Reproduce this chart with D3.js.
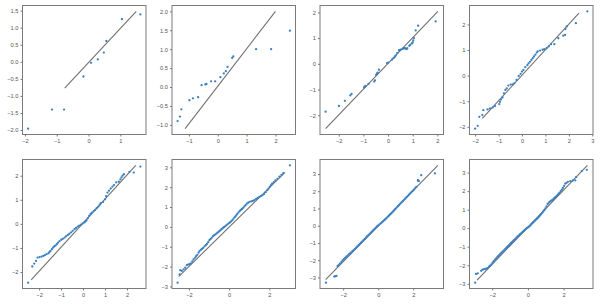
<!DOCTYPE html>
<html>
<head>
<meta charset="utf-8">
<script src="https://cdn.jsdelivr.net/npm/d3@7"></script>
<style>
  body { margin: 0; background: #fff; }
  svg { display: block; font-family: "DejaVu Sans", sans-serif; }
  .tick text { fill: #555; font-size: 5.7px; }
  .tick line { stroke: #777; }
</style>
</head>
<body>
<svg width="600" height="306"></svg>
<script>
// sample vs theoretical quantile pairs
const qq10 = [[-1.90,-1.96],[-1.15,-1.40],[-0.77,-1.40],[-0.16,-0.43],[0.08,-0.03],[0.29,0.07],[0.48,0.27],[0.56,0.61],[1.05,1.25],[1.63,1.39]];
const line10 = [[-0.75,-0.77],[1.50,1.48]];

const qq20 = [[-1.39,-0.90],[-1.31,-0.78],[-1.26,-0.59],[-0.98,-0.35],[-0.86,-0.30],[-0.68,-0.27],[-0.56,0.05],[-0.43,0.07],[-0.39,0.08],[-0.23,0.15],[-0.09,0.15],[0.09,0.26],[0.21,0.36],[0.28,0.42],[0.34,0.53],[0.50,0.77],[0.54,0.81],[1.33,1.00],[1.85,1.00],[2.50,1.49]];
const line20 = [[-1.13,-1.10],[2.00,2.00]];

const qq40 = [[-2.53,-1.86],[-1.99,-1.64],[-1.75,-1.44],[-1.53,-1.23],[-1.48,-1.17],[-0.97,-0.92],[-0.95,-0.90],[-0.92,-0.86],[-0.79,-0.78],[-0.56,-0.69],[-0.53,-0.64],[-0.48,-0.43],[-0.45,-0.38],[-0.42,-0.34],[-0.37,-0.23],[-0.04,0.03],[0.01,0.05],[0.16,0.16],[0.23,0.22],[0.28,0.28],[0.31,0.32],[0.37,0.42],[0.44,0.52],[0.46,0.53],[0.51,0.55],[0.59,0.58],[0.63,0.60],[0.67,0.61],[0.70,0.60],[0.75,0.57],[0.78,0.61],[0.86,0.70],[0.90,0.74],[0.96,0.79],[1.00,0.83],[1.02,0.91],[1.05,1.00],[1.12,1.30],[1.22,1.48],[1.93,1.65]];
const line40 = [[-2.53,-2.52],[2.02,2.04]];

const qq80 = [[-2.00,-2.07],[-1.89,-1.96],[-1.82,-1.61],[-1.69,-1.54],[-1.65,-1.35],[-1.47,-1.32],[-1.37,-1.28],[-1.25,-1.24],[-1.15,-1.19],[-0.97,-1.11],[-0.94,-1.02],[-0.90,-0.93],[-0.83,-0.85],[-0.77,-0.69],[-0.71,-0.56],[-0.65,-0.50],[-0.58,-0.39],[-0.48,-0.35],[-0.40,-0.34],[-0.33,-0.30],[-0.23,-0.17],[-0.14,-0.01],[-0.06,0.07],[0.00,0.16],[0.06,0.22],[0.14,0.33],[0.23,0.41],[0.28,0.48],[0.34,0.54],[0.40,0.61],[0.46,0.68],[0.51,0.75],[0.57,0.82],[0.63,0.90],[0.67,0.95],[0.77,0.98],[0.88,1.01],[0.95,1.03],[1.05,1.07],[1.14,1.14],[1.24,1.23],[1.38,1.23],[1.55,1.46],[1.76,1.56],[1.84,1.59],[1.85,1.82],[1.91,1.92],[2.30,2.05],[2.79,2.51]];
const line80 = [[-1.69,-1.67],[2.43,2.44]];

const qq160 = [[-2.50,-2.44],[-2.31,-1.77],[-2.22,-1.65],[-2.14,-1.54],[-2.07,-1.40],[-1.98,-1.38],[-1.89,-1.36],[-1.81,-1.33],[-1.74,-1.30],[-1.66,-1.26],[-1.57,-1.22],[-1.52,-1.16],[-1.48,-1.12],[-1.42,-1.05],[-1.36,-0.98],[-1.30,-0.93],[-1.24,-0.89],[-1.19,-0.84],[-1.14,-0.78],[-1.07,-0.72],[-0.99,-0.66],[-0.92,-0.62],[-0.84,-0.57],[-0.77,-0.51],[-0.69,-0.46],[-0.62,-0.41],[-0.54,-0.35],[-0.47,-0.29],[-0.39,-0.22],[-0.32,-0.17],[-0.24,-0.11],[-0.17,-0.07],[-0.09,-0.03],[-0.02,0.02],[0.06,0.06],[0.11,0.10],[0.16,0.15],[0.22,0.24],[0.28,0.33],[0.34,0.40],[0.40,0.47],[0.48,0.53],[0.55,0.58],[0.62,0.65],[0.70,0.72],[0.76,0.80],[0.81,0.86],[0.91,0.91],[1.00,1.02],[1.05,1.15],[1.11,1.30],[1.18,1.38],[1.26,1.47],[1.34,1.55],[1.41,1.61],[1.51,1.72],[1.63,1.75],[1.70,1.85],[1.75,1.93],[1.80,2.00],[1.86,2.06],[2.11,2.16],[2.31,2.13],[2.61,2.38]];
const line160 = [[-2.36,-2.33],[2.40,2.43]];

const qq320 = [[-2.56,-2.81],[-2.46,-2.40],[-2.43,-2.18],[-2.35,-2.22],[-2.26,-2.14],[-2.18,-2.06],[-2.10,-1.93],[-2.04,-1.90],[-1.97,-1.88],[-1.90,-1.84],[-1.83,-1.74],[-1.77,-1.64],[-1.70,-1.56],[-1.64,-1.48],[-1.58,-1.41],[-1.52,-1.30],[-1.47,-1.22],[-1.41,-1.16],[-1.35,-1.11],[-1.29,-1.06],[-1.22,-0.98],[-1.16,-0.92],[-1.10,-0.86],[-1.04,-0.77],[-0.98,-0.67],[-0.92,-0.61],[-0.86,-0.55],[-0.80,-0.47],[-0.74,-0.42],[-0.68,-0.38],[-0.62,-0.33],[-0.56,-0.28],[-0.50,-0.23],[-0.44,-0.18],[-0.38,-0.12],[-0.32,-0.07],[-0.26,-0.02],[-0.20,0.03],[-0.14,0.08],[-0.08,0.13],[-0.02,0.18],[0.04,0.22],[0.10,0.28],[0.16,0.34],[0.22,0.42],[0.28,0.49],[0.34,0.56],[0.40,0.64],[0.46,0.72],[0.52,0.79],[0.58,0.85],[0.64,0.90],[0.70,0.96],[0.76,1.03],[0.82,1.10],[0.88,1.17],[0.95,1.22],[1.02,1.26],[1.10,1.29],[1.18,1.31],[1.26,1.35],[1.34,1.41],[1.42,1.46],[1.50,1.51],[1.58,1.55],[1.66,1.60],[1.74,1.66],[1.82,1.75],[1.90,1.85],[1.96,1.93],[2.02,2.02],[2.08,2.10],[2.14,2.18],[2.22,2.26],[2.30,2.34],[2.40,2.42],[2.50,2.53],[2.60,2.62],[2.69,2.71],[3.02,3.10]];
const line320 = [[-2.51,-2.51],[2.78,2.75]];

const qq640 = [[-2.98,-3.30],[-2.51,-2.95],[-2.45,-2.93],[-2.38,-2.91],[-2.32,-2.34],[-2.26,-2.28],[-2.18,-2.20],[-2.10,-2.10],[-2.03,-2.01],[-1.96,-1.94],[-1.89,-1.87],[-1.82,-1.80],[-1.75,-1.73],[-1.68,-1.66],[-1.61,-1.61],[-1.54,-1.55],[-1.47,-1.48],[-1.40,-1.41],[-1.33,-1.34],[-1.26,-1.27],[-1.19,-1.20],[-1.12,-1.13],[-1.05,-1.06],[-0.98,-0.98],[-0.91,-0.91],[-0.84,-0.84],[-0.77,-0.77],[-0.70,-0.69],[-0.63,-0.61],[-0.56,-0.54],[-0.49,-0.47],[-0.42,-0.40],[-0.35,-0.33],[-0.28,-0.25],[-0.21,-0.18],[-0.14,-0.11],[-0.07,-0.04],[0.00,0.02],[0.07,0.08],[0.14,0.14],[0.21,0.20],[0.28,0.26],[0.35,0.32],[0.42,0.39],[0.49,0.46],[0.56,0.53],[0.63,0.60],[0.70,0.67],[0.77,0.74],[0.84,0.82],[0.91,0.89],[0.98,0.97],[1.05,1.05],[1.12,1.13],[1.19,1.20],[1.26,1.28],[1.33,1.35],[1.40,1.42],[1.47,1.50],[1.54,1.57],[1.61,1.65],[1.68,1.72],[1.75,1.80],[1.82,1.87],[1.89,1.94],[1.96,2.02],[2.03,2.09],[2.10,2.17],[2.17,2.25],[2.26,2.64],[2.28,2.60],[2.32,2.59],[2.45,2.93],[3.23,3.03]];
const line640 = [[-3.00,-3.12],[3.40,3.50]];

const qq1280 = [[-2.96,-2.94],[-2.91,-2.47],[-2.81,-2.44],[-2.62,-2.30],[-2.55,-2.24],[-2.48,-2.22],[-2.40,-2.20],[-2.32,-2.18],[-2.26,-2.16],[-2.18,-2.08],[-2.12,-2.02],[-2.05,-1.95],[-1.98,-1.86],[-1.92,-1.78],[-1.85,-1.70],[-1.78,-1.63],[-1.72,-1.57],[-1.66,-1.50],[-1.60,-1.44],[-1.54,-1.38],[-1.48,-1.32],[-1.42,-1.27],[-1.36,-1.21],[-1.30,-1.15],[-1.24,-1.09],[-1.18,-1.03],[-1.12,-0.97],[-1.06,-0.91],[-1.00,-0.85],[-0.94,-0.80],[-0.88,-0.74],[-0.82,-0.68],[-0.76,-0.63],[-0.70,-0.57],[-0.64,-0.51],[-0.58,-0.45],[-0.52,-0.40],[-0.46,-0.34],[-0.40,-0.29],[-0.34,-0.24],[-0.28,-0.19],[-0.22,-0.14],[-0.16,-0.08],[-0.10,-0.03],[-0.04,0.02],[0.02,0.05],[0.08,0.10],[0.14,0.15],[0.20,0.22],[0.26,0.28],[0.32,0.33],[0.38,0.39],[0.44,0.45],[0.50,0.50],[0.56,0.56],[0.62,0.62],[0.68,0.69],[0.74,0.76],[0.80,0.83],[0.86,0.90],[0.92,0.98],[0.98,1.07],[1.04,1.18],[1.10,1.30],[1.16,1.37],[1.22,1.42],[1.28,1.47],[1.35,1.51],[1.42,1.57],[1.48,1.63],[1.54,1.68],[1.60,1.73],[1.66,1.80],[1.72,1.86],[1.78,1.92],[1.84,2.00],[1.90,2.08],[1.96,2.17],[2.03,2.28],[2.09,2.40],[2.16,2.45],[2.24,2.50],[2.37,2.54],[2.50,2.56],[2.65,2.58],[2.70,2.76],[3.02,3.08],[3.30,3.15]];
const line1280 = [[-2.85,-2.80],[3.33,3.39]];

// tick values
const xTicksA = [-2, -1, 0, 1];
const yTicksA = [-2.0, -1.5, -1.0, -0.5, 0.0, 0.5, 1.0, 1.5];
const xTicksB = [-1, 0, 1, 2];
const yTicksB = [-1.0, -0.5, 0.0, 0.5, 1.0, 1.5, 2.0];
const xTicksC = [-2, -1, 0, 1, 2];
const yTicksC = [-2, -1, 0, 1, 2];
const xTicksD = [-2, -1, 0, 1, 2, 3];
const xTicksE = [-2, 0, 2];
const yTicksE = [-3, -2, -1, 0, 1, 2, 3];

const panels = [
  { pts: qq10, line: line10, xt: xTicksA, yt: yTicksA, yf: ".1f" },
  { pts: qq20, line: line20, xt: xTicksB, yt: yTicksB, yf: ".1f" },
  { pts: qq40, line: line40, xt: xTicksC, yt: yTicksC, yf: "d" },
  { pts: qq80, line: line80, xt: xTicksD, yt: yTicksC, yf: "d" },
  { pts: qq160, line: line160, xt: xTicksC, yt: yTicksC, yf: "d" },
  { pts: qq320, line: line320, xt: xTicksE, yt: yTicksE, yf: "d" },
  { pts: qq640, line: line640, xt: xTicksE, yt: yTicksE, yf: "d" },
  { pts: qq1280, line: line1280, xt: xTicksE, yt: yTicksE, yf: "d" },
];

const colLeft = [22.5, 172, 320, 469.5];
const rowTop = [5.5, 159.5];
const w = 123.5, h = 129;

const svg = d3.select("svg");

panels.forEach((p, i) => {
  const all = p.pts.concat(p.line);
  const xe = d3.extent(all, (d) => d[0]);
  const ye = d3.extent(all, (d) => d[1]);
  const padX = (xe[1] - xe[0]) * 0.05;
  const padY = (ye[1] - ye[0]) * 0.05;

  const x = d3.scaleLinear().domain([xe[0] - padX, xe[1] + padX]).range([0, w]);
  const y = d3.scaleLinear().domain([ye[0] - padY, ye[1] + padY]).range([h, 0]);

  const g = svg
    .append("g")
    .attr("transform", `translate(${colLeft[i % 4]},${rowTop[Math.floor(i / 4)]})`);

  g.append("path")
    .datum(p.line)
    .attr("fill", "none")
    .attr("stroke", "#707070")
    .attr("stroke-width", 1.1)
    .attr("d", d3.line().x((d) => x(d[0])).y((d) => y(d[1])));

  g.append("g")
    .selectAll("circle")
    .data(p.pts)
    .join("circle")
    .attr("cx", (d) => x(d[0]))
    .attr("cy", (d) => y(d[1]))
    .attr("r", 1.15)
    .attr("fill", "#3a80c2");

  g.append("g")
    .attr("transform", `translate(0,${h})`)
    .call(d3.axisBottom(x).tickValues(p.xt).tickFormat(d3.format("d")).tickSize(2).tickPadding(2))
    .call((a) => a.select(".domain").remove());

  g.append("g")
    .call(d3.axisLeft(y).tickValues(p.yt).tickFormat(d3.format(p.yf)).tickSize(2).tickPadding(2))
    .call((a) => a.select(".domain").remove());

  g.append("rect")
    .attr("width", w)
    .attr("height", h)
    .attr("fill", "none")
    .attr("stroke", "#7a7a7a")
    .attr("stroke-width", 1);
});
</script>
</body>
</html>
